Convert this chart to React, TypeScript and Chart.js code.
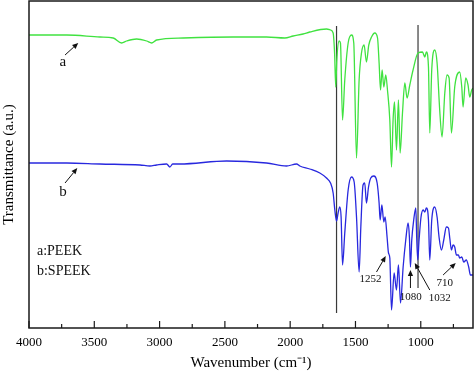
import { useEffect, useRef } from "react";
import { Chart, registerables } from "chart.js";

Chart.register(...registerables);

const SERIF = "'Liberation Serif', 'Times New Roman', serif";

// a: PEEK spectrum (wavenumber cm-1, transmittance a.u.)
const peekWavenumbers = [4000,3711,3457,3355,3291,3252,3176,3099,3061,3023,2819,2437,2181,2041,1977,1901,1850,1722,1691,1671,1660,1651,1643,1625,1615,1599,1582,1556,1530,1513,1492,1472,1454,1434,1416,1398,1377,1352,1331,1319,1308,1296,1283,1268,1255,1237,1224,1212,1201,1186,1171,1158,1140,1122,1105,1084,1059,1021,987,969,957,941,931,916,893,875,855,837,816,799,783,765,740,702,686,676,656,638,625,610,600];
const peekTransmittance = [293,293,291,290,285,287,289,287,285,288,290,291,291,290,292,294,296,299,298,295,275,241,268,287,285,208,248,285,293,285,170,248,275,283,266,283,291,295,290,265,238,258,241,253,238,208,161,208,226,178,228,175,215,245,230,243,258,275,276,271,276,261,195,258,278,265,218,191,235,253,250,195,241,256,241,221,250,243,231,238,240];

// b: SPEEK spectrum
const speekWavenumbers = [4000,3711,3457,3150,3074,3023,2946,2921,2900,2844,2487,2181,2028,1951,1926,1850,1773,1722,1691,1671,1658,1645,1633,1620,1610,1599,1582,1556,1530,1510,1492,1472,1459,1442,1429,1416,1400,1383,1360,1334,1319,1311,1298,1283,1273,1258,1247,1237,1224,1204,1186,1171,1155,1135,1115,1097,1087,1079,1069,1054,1038,1031,1023,1013,998,982,969,957,941,931,916,893,875,860,842,824,804,788,778,765,753,740,727,712,702,686,671,651,633,620,600];
const speekTransmittance = [165,165,164,163,162,163,164,161,164,164,167,165,162,164,162,159,155,150,145,135,118,107,115,121,111,63,95,138,151,146,111,56,101,143,145,125,141,150,152,145,125,108,123,106,111,91,75,70,18,55,38,63,25,61,88,105,91,61,88,108,120,90,68,88,111,118,116,120,108,68,108,121,111,91,78,88,101,100,90,78,83,81,73,73,70,71,66,68,61,53,53];

// vertical reference lines
const markerWavenumbers = [1645, 1021];
const markerTop = [302, 303];
const markerBottom = [15, 40];

// x-axis ticks
const xMin = 600;
const xMax = 4000;
const majorStep = 500;
const minorStep = 250;

// annotations: label, text anchor [wn, T], arrow from [wn, T], arrow to [wn, T]
const annotationLabels = ["a", "b", "1252", "1080", "1032", "710"];
const annotationText = [[3740, 266], [3740, 136], [1385, 49], [1077, 31], [855, 30], [816, 45]];
const annotationFrom = [[3724, 273], [3724, 145], [1339, 56], [1079, 40], [931, 38], [829, 53]];
const annotationTo = [[3623, 285], [3630, 160], [1268, 72], [1079, 58], [1046, 65], [732, 65]];
const legendLines = ["a:PEEK", "b:SPEEK"];
const legendAnchor = [[3939, 77], [3939, 57]];

const toPoints = (xs: number[], ys: number[]) => xs.map((x, i) => ({ x, y: ys[i] }));

export default function App() {
  const ref = useRef<HTMLCanvasElement>(null);

  useEffect(() => {
    const canvas = ref.current;
    if (!canvas) return;

    const overlay = {
      id: "overlay",
      afterDraw(chart: any) {
        const { ctx, chartArea } = chart;
        const xs = chart.scales.x;
        const ys = chart.scales.y;
        const { left, right, top, bottom } = chartArea;
        ctx.save();
        // frame
        ctx.strokeStyle = "#1a1a1a";
        ctx.lineWidth = 1.5;
        ctx.strokeRect(left, top, right - left, bottom - top);
        // ticks (inward)
        ctx.lineWidth = 1.2;
        for (let v = xMax; v >= xMin; v -= minorStep) {
          const px = xs.getPixelForValue(v);
          const len = v % majorStep === 0 ? 7 : 4;
          ctx.beginPath();
          ctx.moveTo(px, bottom);
          ctx.lineTo(px, bottom - len);
          ctx.stroke();
        }
        // arrows
        ctx.strokeStyle = "#111";
        ctx.fillStyle = "#111";
        ctx.lineWidth = 1;
        annotationFrom.forEach((f, i) => {
          const t = annotationTo[i];
          const x1 = xs.getPixelForValue(f[0]);
          const y1 = ys.getPixelForValue(f[1]);
          const x2 = xs.getPixelForValue(t[0]);
          const y2 = ys.getPixelForValue(t[1]);
          const ang = Math.atan2(y2 - y1, x2 - x1);
          const hl = 6;
          const hw = 2.6;
          const bx = x2 - hl * Math.cos(ang);
          const by = y2 - hl * Math.sin(ang);
          ctx.beginPath();
          ctx.moveTo(x1, y1);
          ctx.lineTo(bx, by);
          ctx.stroke();
          ctx.beginPath();
          ctx.moveTo(x2, y2);
          ctx.lineTo(bx + hw * Math.sin(ang), by - hw * Math.cos(ang));
          ctx.lineTo(bx - hw * Math.sin(ang), by + hw * Math.cos(ang));
          ctx.closePath();
          ctx.fill();
        });
        // annotation text
        ctx.textAlign = "center";
        ctx.textBaseline = "middle";
        annotationLabels.forEach((label, i) => {
          const size = label.length > 1 ? 11 : 15;
          ctx.font = `${size}px ${SERIF}`;
          ctx.fillText(label, xs.getPixelForValue(annotationText[i][0]), ys.getPixelForValue(annotationText[i][1]));
        });
        ctx.textAlign = "left";
        ctx.font = `14px ${SERIF}`;
        legendLines.forEach((line, i) => {
          ctx.fillText(line, xs.getPixelForValue(legendAnchor[i][0]), ys.getPixelForValue(legendAnchor[i][1]));
        });
        ctx.restore();
      },
    };

    const markerSets = markerWavenumbers.map((wn, i) => ({
      data: [{ x: wn, y: markerBottom[i] }, { x: wn, y: markerTop[i] }],
      borderColor: "#3a3a3a",
      borderWidth: 1.2,
      pointRadius: 0,
    }));

    const chart = new Chart(canvas, {
      type: "line",
      data: {
        datasets: [
          {
            label: "a:PEEK",
            data: toPoints(peekWavenumbers, peekTransmittance),
            borderColor: "rgb(64, 226, 64)",
            borderWidth: 1.3,
            pointRadius: 0,
            cubicInterpolationMode: "monotone",
          },
          {
            label: "b:SPEEK",
            data: toPoints(speekWavenumbers, speekTransmittance),
            borderColor: "rgb(40, 40, 222)",
            borderWidth: 1.3,
            pointRadius: 0,
            cubicInterpolationMode: "monotone",
          },
          ...markerSets,
        ],
      },
      options: {
        responsive: false,
        maintainAspectRatio: false,
        animation: false,
        devicePixelRatio: 1,
        layout: { padding: { top: 1, right: 1, left: 0, bottom: 0 } },
        plugins: { legend: { display: false }, tooltip: { enabled: false } },
        scales: {
          x: {
            type: "linear",
            reverse: true,
            min: xMin,
            max: xMax,
            afterFit: (scale: any) => {
              scale.height = 44;
            },
            grid: { display: false, drawTicks: false },
            border: { display: false },
            ticks: {
              stepSize: minorStep,
              autoSkip: false,
              maxRotation: 0,
              includeBounds: false,
              padding: 7,
              color: "#000",
              font: { family: SERIF, size: 13 },
              callback: (v: any) => (Number(v) % majorStep === 0 ? String(v) : ""),
            },
            title: {
              display: true,
              text: "Wavenumber (cm⁻¹)",
              color: "#000",
              font: { family: SERIF, size: 15 },
              padding: { top: 2, bottom: 0 },
            },
          },
          y: {
            type: "linear",
            min: 0,
            max: 327,
            afterFit: (scale: any) => {
              scale.width = 29;
            },
            ticks: { display: false },
            grid: { display: false, drawTicks: false },
            border: { display: false },
            title: {
              display: true,
              text: "Transmittance (a.u.)",
              color: "#000",
              font: { family: SERIF, size: 15 },
              padding: { top: 0, bottom: 11 },
            },
          },
        },
      },
      plugins: [overlay],
    });

    return () => chart.destroy();
  }, []);

  return (
    <div style={{ position: "fixed", left: 0, top: 0, width: 474, height: 372, background: "#fff" }}>
      <canvas ref={ref} width={474} height={372} style={{ display: "block" }} />
    </div>
  );
}
